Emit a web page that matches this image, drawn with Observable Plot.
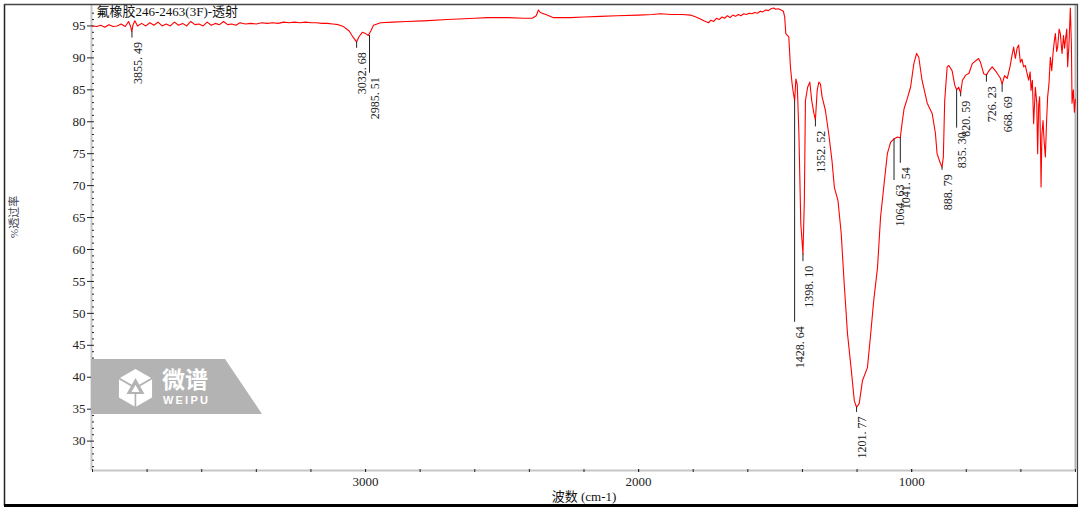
<!DOCTYPE html>
<html><head><meta charset="utf-8">
<script src="https://cdn.jsdelivr.net/npm/d3@7"></script>
<script src="https://cdn.jsdelivr.net/npm/@observablehq/plot@0.6"></script>
<style>html,body{margin:0;padding:0;background:#fff;} #chart{width:1080px;height:512px;}</style>
</head><body><div id="chart"></div>
<script>
const title = "氟橡胶246-2463(3F)-透射";
const xLabel = "波数 (cm-1)";
const yLabel = "%透过率";

// [wavenumber cm-1, %T]
const spectrum4000to2000 = [[4000,95.0],[3985,94.9],[3970,95.1],[3955,94.8],[3940,95.2],[3925,94.9],[3910,95.0],[3895,95.3],[3880,94.9],[3868,95.7],[3861,95.0],[3856,94.1],[3852,95.1],[3845,95.8],[3835,95.0],[3820,95.4],[3805,95.0],[3790,95.5],[3775,95.1],[3760,95.6],[3745,95.0],[3730,95.3],[3715,95.0],[3700,95.6],[3685,95.1],[3670,95.4],[3655,95.0],[3640,95.7],[3625,95.2],[3610,95.3],[3595,95.0],[3580,95.6],[3565,95.1],[3550,95.4],[3535,95.2],[3520,95.7],[3505,95.2],[3490,95.3],[3475,95.1],[3460,95.5],[3440,95.3],[3420,95.4],[3400,95.3],[3380,95.5],[3360,95.4],[3340,95.5],[3320,95.4],[3300,95.6],[3280,95.5],[3260,95.6],[3240,95.5],[3220,95.6],[3200,95.5],[3180,95.5],[3160,95.4],[3140,95.4],[3120,95.3],[3100,95.2],[3081,94.9],[3060,94.2],[3045,93.2],[3033,92.5],[3024,93.3],[3012,94.0],[3000,93.8],[2990,93.5],[2980,94.3],[2971,95.1],[2945,95.5],[2900,95.6],[2850,95.7],[2788,95.8],[2700,96.0],[2600,96.2],[2554,96.3],[2480,96.3],[2420,96.2],[2390,96.2],[2375,96.6],[2367,97.5],[2360,97.1],[2353,97.0],[2335,96.7],[2312,96.3],[2250,96.3],[2200,96.4],[2140,96.5],[2080,96.6],[2000,96.7]];
const spectrum2000to1150 = [[1950,96.8],[1920,96.9],[1880,96.8],[1840,96.8],[1810,96.7],[1790,96.4],[1770,96.0],[1755,95.7],[1744,95.5],[1735,95.9],[1725,95.7],[1715,96.2],[1705,96.0],[1695,96.4],[1685,96.2],[1675,96.6],[1665,96.3],[1655,96.7],[1645,96.5],[1635,96.8],[1625,96.6],[1615,96.9],[1605,96.8],[1595,97.0],[1585,96.9],[1575,97.1],[1565,97.0],[1554,97.3],[1545,97.2],[1535,97.5],[1525,97.4],[1515,97.7],[1506,97.8],[1498,97.6],[1488,97.7],[1478,97.5],[1470,97.3],[1465,96.4],[1461,93.8],[1450,93.3],[1444,88.6],[1438,86.0],[1434,84.7],[1428.6,83.3],[1424,86.7],[1419,85.8],[1413,78.2],[1406,64.0],[1398.1,59.3],[1393,67.7],[1389,83.3],[1381,85.4],[1373,86.2],[1366,83.3],[1358,81.3],[1352.5,80.3],[1346,84.9],[1340,86.2],[1334,85.9],[1328,83.9],[1316,81.8],[1304,78.2],[1292,74.0],[1283,69.7],[1270,67.7],[1258,62.5],[1247,54.6],[1235,46.8],[1222,41.5],[1210,36.3],[1201.8,35.3],[1192,35.9],[1180,39.5],[1162,41.5],[1150,46.8]];
const spectrum1150to400 = [[1139,52.0],[1125,57.2],[1114,65.0],[1101,70.3],[1089,75.0],[1077,76.8],[1064.6,77.3],[1052,77.6],[1041.5,77.5],[1036,79.5],[1028,82.0],[1017,83.5],[1004,85.4],[992,89.1],[982,90.7],[974,90.1],[962,86.5],[943,82.9],[925,81.3],[913,78.2],[907,75.0],[895,73.5],[888.8,72.9],[884,74.5],[879,83.3],[870,88.6],[864,88.8],[852,88.0],[842,85.7],[835.3,85.0],[828,85.4],[820.6,84.5],[814,86.5],[802,87.3],[790,87.6],[778,89.1],[755,89.9],[748,89.3],[736,87.5],[726.2,87.3],[720,87.8],[705,88.6],[690,87.8],[675,86.8],[668.7,85.9],[660,87.2],[650,86.8],[640,88.6],[632,90.5],[626.5,91.7],[620.3,89.9],[614,91.5],[608.2,92.0],[602,89.3],[596,89.8],[590,88.6],[583.6,88.8],[577,87.5],[571.5,86.5],[566,87.8],[562.8,84.9],[558,86.5],[553.3,79.7],[547,85.4],[542,83.0],[538.6,75.0],[535,82.5],[531.3,83.9],[528,76.0],[526.2,69.8],[523,78.0],[518.9,80.2],[515,77.0],[510.4,74.5],[506,80.0],[502,83.9],[497,86.0],[492.2,90.1],[487,88.0],[482.3,90.7],[478,92.5],[473.7,93.8],[469,91.0],[465.3,91.7],[460,94.5],[455.5,93.8],[452,92.0],[449.2,90.7],[444,93.5],[440,91.5],[437.2,92.7],[432,94.5],[428.8,88.6],[424,92.0],[418.9,97.8],[415,92.0],[412.7,82.9],[408,85.0],[404,81.5],[400.6,83.5]];

const peakWavenumber = [3855.49, 3032.68, 2985.51, 1428.64, 1398.10, 1352.52, 1201.77, 1064.63, 1041.54, 888.79, 835.30, 820.59, 726.23, 668.69];
const peakTransmittance = [94.1, 92.5, 93.5, 83.3, 59.3, 80.3, 35.3, 77.3, 77.5, 72.9, 85.0, 84.5, 87.3, 85.9];
const peakLabelLevel = [93.1, 91.5, 87.6, 48.6, 58.1, 79.2, 34.5, 70.8, 73.5, 72.4, 79.0, 83.9, 86.2, 84.6];

const yTicks = [30, 35, 40, 45, 50, 55, 60, 65, 70, 75, 80, 85, 90, 95];
const yMinorTicks = d3.range(26, 98, 1);
const xTicks = [3000, 2000, 1000];
const xMinorTicks = d3.range(4000, 399, -200);
const xDomain = [4000, 400];
const yDomain = [25.4, 98.2];

const data = [...spectrum4000to2000, ...spectrum2000to1150, ...spectrum1150to400].map(([w, t]) => ({w, t}));
const peaks = peakWavenumber.map((w, i) => ({
  w, t: peakTransmittance[i], l: peakLabelLevel[i],
  label: w.toFixed(2).replace(".", ". ")
}));

const serif = "'Liberation Serif', 'Noto Sans CJK SC', serif";
const plot = Plot.plot({
  width: 1080, height: 512,
  marginLeft: 92, marginRight: 5, marginTop: 5, marginBottom: 42,
  style: {fontFamily: serif, fontSize: "13px", background: "#fff", color: "#222", overflow: "visible"},
  x: {domain: xDomain, axis: null},
  y: {domain: yDomain, axis: null},
  marks: [
    Plot.ruleX([xDomain[0]], {stroke: "#c6c6c6", strokeWidth: 2, dx: -1}),
    Plot.ruleX([xDomain[1]], {stroke: "#b4b4b4", strokeWidth: 2}),
    Plot.ruleY([yDomain[0]], {stroke: "#c6c6c6", strokeWidth: 2}),
    Plot.axisY(yTicks, {anchor: "left", tickSize: 5, tickPadding: 2, label: null, fontSize: 13, fill: "#222"}),
    Plot.axisY(yMinorTicks, {anchor: "left", tickSize: 2, dx: 2, tickFormat: () => "", label: null}),
    Plot.axisX(xMinorTicks, {anchor: "bottom", tickSize: 3, dy: -1, tickFormat: () => "", label: null}),
    Plot.axisX(xTicks, {anchor: "bottom", tickSize: 3, tickPadding: 4, dy: -1, label: null, fontSize: 13, fill: "#222", tickFormat: d => String(d)}),
    Plot.line(data, {x: "w", y: "t", stroke: "#ff0000", strokeWidth: 1.1}),
    Plot.ruleX(peaks, {x: "w", y1: "t", y2: "l", stroke: "#222", strokeWidth: 1}),
    Plot.text(peaks, {x: "w", y: "l", text: "label", rotate: -90, textAnchor: "end", lineAnchor: "middle", dx: 6, dy: 4, fontSize: 12, fill: "#222"}),
    Plot.text([title], {frameAnchor: "top-left", textAnchor: "start", lineAnchor: "top", dx: 4, dy: 1, fontSize: 13, fill: "#111"}),
    Plot.text([xLabel], {frameAnchor: "bottom", lineAnchor: "middle", dy: 26, fontSize: 13, fill: "#111"}),
    Plot.text([yLabel], {frameAnchor: "left", rotate: -90, dx: -78, fontSize: 11, fill: "#445"})
  ]
});
document.getElementById("chart").appendChild(plot);

// decorations: outer border and watermark
const svg = d3.select(plot);
const deco = svg.append("g");
deco.append("line").attr("x1", 4.5).attr("x2", 4.5).attr("y1", 4).attr("y2", 506).attr("stroke", "#222").attr("stroke-width", 1.5);
deco.append("line").attr("x1", 4).attr("x2", 1078).attr("y1", 4.5).attr("y2", 4.5).attr("stroke", "#444").attr("stroke-width", 1.5);
deco.append("line").attr("x1", 1077.5).attr("x2", 1077.5).attr("y1", 4).attr("y2", 506).attr("stroke", "#444").attr("stroke-width", 1.2);
deco.append("line").attr("x1", 4).attr("x2", 1078).attr("y1", 505.5).attr("y2", 505.5).attr("stroke", "#000").attr("stroke-width", 3);

const wm = svg.append("g").attr("text-anchor", "start");
wm.append("polygon").attr("points", "91,359 225,359 262,414 91,414").attr("fill", "#b3b3b3");
const cx = 135.5, cy = 388, R = 20;
const hp = a => [cx + R * Math.cos(a * Math.PI / 180), cy + R * Math.sin(a * Math.PI / 180)];
const [T, UR, LR, B, LL, UL] = [-90, -30, 30, 90, 150, 210].map(hp);
const C = [cx, cy];
const poly = pts => pts.map(p => p.join(",")).join(" ");
[[T, UR, C, UL], [UL, C, B, LL], [UR, LR, B, C]].forEach(p =>
  wm.append("polygon").attr("points", poly(p)).attr("fill", "#fff").attr("stroke", "#b3b3b3").attr("stroke-width", 1.5));
wm.append("polygon").attr("points", poly([[cx, cy - 10], [cx + 9, cy + 6], [cx - 9, cy + 6]])).attr("fill", "#b3b3b3");
wm.append("polygon").attr("points", poly([[cx, cy - 3], [cx + 4, cy + 4], [cx - 4, cy + 4]])).attr("fill", "#fff");
wm.append("text").attr("x", 162).attr("y", 388).attr("text-anchor", "start").text("微谱")
  .attr("fill", "#fff").attr("font-size", 23).attr("font-weight", "bold").attr("font-family", "'Noto Sans CJK SC', sans-serif");
wm.append("text").attr("x", 163).attr("y", 404).attr("text-anchor", "start").text("WEIPU")
  .attr("fill", "#fff").attr("font-size", 11).attr("font-weight", "bold").attr("letter-spacing", 2.2).attr("font-family", "'Liberation Sans', Arial, sans-serif");
</script></body></html>
